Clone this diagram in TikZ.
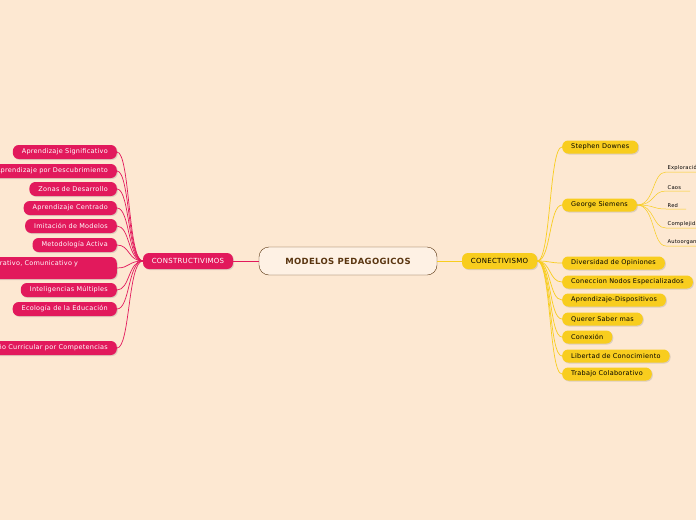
\documentclass[tikz,border=0pt]{standalone}
\usepackage{fontspec}
\setmainfont{DejaVu Sans}[LetterSpace=4]
\usetikzlibrary{shadows}
\definecolor{bg}{HTML}{FDE8D2}
\definecolor{pk}{HTML}{E2195C}
\definecolor{yl}{HTML}{F8CD1E}
\definecolor{br}{HTML}{5A3510}
\tikzset{x=1pt,y=-1pt,
 pnode/.style={fill=pk,text=white,rounded corners=6pt,font=\fontsize{6.5}{8}\selectfont,minimum height=14pt,inner xsep=9pt,inner ysep=2pt,drop shadow={opacity=0.25,shadow xshift=1pt,shadow yshift=-1pt}},
 ynode/.style={fill=yl,text=black,rounded corners=6pt,font=\fontsize{6.5}{8}\selectfont,minimum height=13pt,inner xsep=9pt,inner ysep=2pt,drop shadow={opacity=0.25,shadow xshift=1pt,shadow yshift=-1pt}},
 pline/.style={draw=pk,line width=0.7pt},
 yline/.style={draw=yl,line width=0.7pt},
 sub/.style={font=\fontsize{5.2}{6}\selectfont,anchor=south west,inner sep=1.5pt,text=black}}
\begin{document}
\begin{tikzpicture}
\fill[bg] (0,0) rectangle (696,520);
\clip (0,0) rectangle (696,520);
\useasboundingbox (0,0) rectangle (696,520);
\node[draw=br,fill=bg!60!white,text=br,rounded corners=10pt,minimum width=178pt,minimum height=28pt,font=\bfseries\fontsize{8.5}{10}\selectfont] (c) at (348,261) {MODELOS PEDAGOGICOS};
\node[pnode,font=\fontsize{7}{8}\selectfont,minimum width=90pt,minimum height=16pt,inner xsep=3pt] (L) at (188,261) {CONSTRUCTIVIMOS};
\node[ynode,font=\fontsize{7}{8}\selectfont,minimum width=75pt,minimum height=16pt,inner xsep=3pt] (R) at (499.5,261) {CONECTIVISMO};
\draw[pline] (c.west) -- (L.east);
\draw[yline] (c.east) -- (R.west);
\foreach \n/\y/\t in {l1/152/Aprendizaje Significativo,l2/171/Aprendizaje por Descubrimiento,l3/189/Zonas de Desarrollo,l4/208/Aprendizaje Centrado,l5/226/Imitación de Modelos,l6/245/Metodología Activa,l8/290/Inteligencias Múltiples,l9/309/Ecología de la Educación,l10/348/Diseño Curricular por Competencias}{
 \node[pnode,anchor=east] (\n) at (117,\y) {\t};
 \draw[pline] (L.west) .. controls (128,261) and (130,\y) .. (\n.east);
}
\node[pnode,anchor=east,minimum height=22pt,text width=175pt,align=left] (l7) at (117,268) {Aprendizaje Colaborativo, Comunicativo y\\ \strut};
\draw[pline] (L.west) .. controls (128,261) and (130,268) .. (l7.east);
\foreach \n/\y/\t in {r1/147/Stephen Downes,r2/205/George Siemens,r3/263/Diversidad de Opiniones,r4/282/Coneccion Nodos Especializados,r5/300/Aprendizaje-Dispositivos,r6/319/Querer Saber mas,r7/337/Conexión,r8/356/Libertad de Conocimiento,r9/374/Trabajo Colaborativo}{
 \node[ynode,anchor=west] (\n) at (562,\y) {\t};
 \draw[yline] (R.east) .. controls (551,261) and (549,\y) .. (\n.west);
}
\foreach \n/\y/\t/\w in {s1/172/Exploración/40,s2/191/Caos/24,s3/209/Red/20,s4/228/Complejidad/40,s5/246/Autoorganización/40}{
 \coordinate (\n) at (666,\y);
 \draw[yline,line width=0.5pt] (r2.east) .. controls (655,205) and (652,\y) .. (\n) -- ++(\w,0);
 \node[sub] at (\n) {\t};
}
\end{tikzpicture}
\end{document}
